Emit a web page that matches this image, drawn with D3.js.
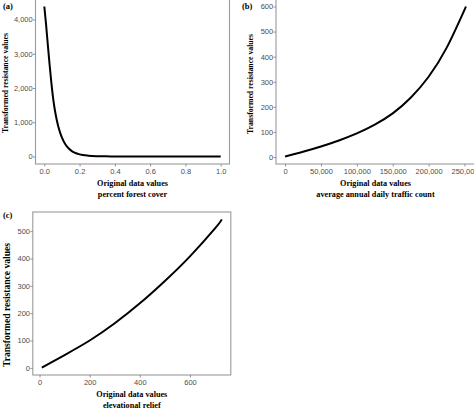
<!DOCTYPE html>
<html><head><meta charset="utf-8">
<script src="https://cdn.jsdelivr.net/npm/d3@7"></script>
<style>
html,body{margin:0;padding:0;background:#fff;}
svg{display:block;}
.tick text{font-family:"Liberation Sans",Arial,sans-serif;font-size:7.5px;fill:#4d4d4d;}
.tick line{stroke:#7a7a7a;stroke-width:0.8;}
.ttl{font-family:"Liberation Serif","Times New Roman",serif;font-weight:bold;fill:#000;}
</style></head>
<body>
<svg id="c" width="474" height="410"></svg>
<script>
// Panel (a): percent forest cover
const xA = [0, 0.01, 0.02, 0.03, 0.04, 0.05, 0.06, 0.07, 0.08, 0.09, 0.10, 0.12, 0.14, 0.16, 0.18, 0.20, 0.25, 0.30, 0.35, 0.40, 0.50, 0.60, 0.70, 0.80, 0.90, 1.00];
const yA = [4380, 3850, 3250, 2680, 2150, 1700, 1350, 1080, 860, 690, 550, 350, 225, 145, 95, 62, 24, 9, 4, 2, 1, 0, 0, 0, 0, 0];
const xTicksA = [0, 0.2, 0.4, 0.6, 0.8, 1.0];
const yTicksA = [0, 1000, 2000, 3000, 4000];

// Panel (b): average annual daily traffic count
const xB = [0, 25000, 50000, 75000, 100000, 125000, 150000, 175000, 200000, 225000, 252000];
const yB = [2, 21, 42, 66, 94, 129, 174, 236, 320, 435, 600];
const xTicksB = [0, 50000, 100000, 150000, 200000, 250000];
const yTicksB = [0, 100, 200, 300, 400, 500, 600];

// Panel (c): elevational relief
const xC = [9, 100, 200, 300, 400, 500, 600, 700, 727];
const yC = [1, 47, 100, 163, 236, 318, 408, 510, 543];
const xTicksC = [0, 200, 400, 600];
const yTicksC = [0, 100, 200, 300, 400, 500];

const yTitle = "Transformed resistance values";
const xTitle1 = "Original data values";

const svg = d3.select("#c");

function expand(ext){ const d=(ext[1]-ext[0])*0.05; return [ext[0]-d, ext[1]+d]; }

function panel(o){
  const x = d3.scaleLinear().domain(expand(d3.extent(o.xs))).range([o.l, o.r]);
  const y = d3.scaleLinear().domain(expand(d3.extent(o.ys))).range([o.b, o.t]);
  const g = svg.append("g");
  g.append("rect").attr("x", o.l).attr("y", o.t).attr("width", o.r-o.l).attr("height", o.b-o.t)
    .attr("fill","none").attr("stroke","#9a9a9a").attr("stroke-width",1.1);
  const ax = g.append("g").attr("transform",`translate(0,${o.b})`)
    .call(d3.axisBottom(x).tickValues(o.xt).tickFormat(o.xf).tickSize(2.5).tickPadding(2));
  ax.select(".domain").remove();
  const ay = g.append("g").attr("transform",`translate(${o.l},0)`)
    .call(d3.axisLeft(y).tickValues(o.yt).tickFormat(d3.format(",")).tickSize(2.5).tickPadding(0.3));
  ay.select(".domain").remove();
  const line = d3.line().x((d,i)=>x(o.xs[i])).y((d,i)=>y(o.ys[i])).curve(o.curve);
  g.append("path").datum(o.xs).attr("d", line).attr("fill","none").attr("stroke","#000")
    .attr("stroke-width",2).attr("stroke-linecap","butt");
  const cx = (o.l + o.r)/2;
  g.append("text").attr("class","ttl").attr("x",cx).attr("y",o.b+22).attr("text-anchor","middle")
    .attr("font-size","8.2px").text(xTitle1);
  g.append("text").attr("class","ttl").attr("x",cx).attr("y",o.b+32.5).attr("text-anchor","middle")
    .attr("font-size","8.2px").text(o.xlab2);
  g.append("text").attr("class","ttl")
    .attr("transform",`translate(${o.ytx},${o.yty}) rotate(-90)`)
    .attr("text-anchor","middle").attr("font-size",o.yfs+"px")
    .attr("textLength",o.ylen).attr("lengthAdjust","spacingAndGlyphs").text(yTitle);
  g.append("text").attr("class","ttl").attr("x",o.px).attr("y",o.py).attr("font-size","8.5px").text(o.lab);
}

panel({xs:xA, ys:yA, xt:xTicksA, yt:yTicksA, xf:d3.format(".1f"), curve:d3.curveMonotoneX,
  l:35.5, r:229.5, t:-1, b:164, xlab2:"percent forest cover",
  ytx:8.3, yty:83, yfs:7.8, ylen:100, lab:"(a)", px:3, py:9});
panel({xs:xB, ys:yB, xt:xTicksB, yt:yTicksB, xf:d3.format(","), curve:d3.curveNatural,
  l:276, r:475, t:-1, b:164, xlab2:"average annual daily traffic count",
  ytx:252.5, yty:84, yfs:7.8, ylen:100, lab:"(b)", px:242, py:9});
panel({xs:xC, ys:yC, xt:xTicksC, yt:yTicksC, xf:d3.format(","), curve:d3.curveNatural,
  l:32.8, r:230.8, t:212, b:375, xlab2:"elevational relief",
  ytx:10, yty:305, yfs:9.4, ylen:124, lab:"(c)", px:3, py:218});
</script>
</body></html>
